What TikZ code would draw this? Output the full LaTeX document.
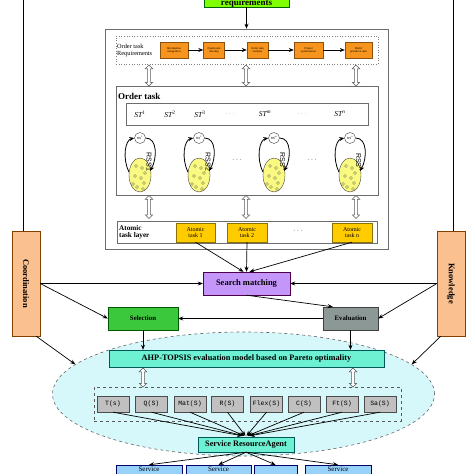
\documentclass[tikz,border=0pt]{standalone}
\usepackage{fontspec}
\setmainfont{Liberation Serif}
\setsansfont{Liberation Sans}
\setmonofont{Liberation Mono}
\usetikzlibrary{arrows.meta,shapes.geometric,shapes.arrows,calc}
\definecolor{cgreen}{RGB}{128,255,0}
\definecolor{corange}{RGB}{247,148,29}
\definecolor{cgold}{RGB}{255,204,0}
\definecolor{cyel}{RGB}{250,250,130}
\definecolor{cpurple}{RGB}{196,150,250}
\definecolor{csel}{RGB}{60,200,60}
\definecolor{ceval}{RGB}{140,152,150}
\definecolor{cpeach}{RGB}{250,192,143}
\definecolor{ccloud}{RGB}{215,248,250}
\definecolor{caqua}{RGB}{110,240,210}
\definecolor{cgray}{RGB}{192,192,192}
\definecolor{cblue}{RGB}{150,210,250}
\newcommand{\fsz}[1]{\fontsize{#1}{#1}\selectfont}
\begin{document}
\begin{tikzpicture}[x=1pt,y=-1pt,
  frame/.style={draw=gray!85!black, line width=0.6pt},
  arr/.style={-{Stealth[length=5pt,width=4pt]}, line width=0.7pt},
  plain/.style={line width=0.7pt},
  dbl/.style={double arrow, draw=gray!70!black, fill=white, inner sep=1.2pt,
     double arrow head extend=2.3pt, double arrow head indent=0pt, rotate=90, line width=0.5pt},
  fbox/.style={draw=#1!55!black, fill=#1, inner sep=0pt, align=center},
  obox/.style={fbox=corange, font=\fsz{3}},
  abox/.style={fbox=cgold, font=\fsz{6}, align=center},
  gbox/.style={fbox=cgray, draw=gray!60!black, minimum width=32, minimum height=16, font=\ttfamily\fsz{6.5}},
  rss/.style={ellipse, draw=gray!50!black, fill=cyel, minimum width=22, minimum height=34, inner sep=0pt},
  rsc/.style={circle, draw=gray!50!black, fill=white, minimum size=11, inner sep=0pt, font=\sffamily\fsz{3}},
  dotc/.style={draw=gray!40!black, line width=0.3pt}
]
\useasboundingbox (0,0) rectangle (474,474);
\clip (0,0) rectangle (474,474);
\fill[white] (0,0) rectangle (474,474);

% top green box
\node[fbox=cgreen, draw=green!40!black, minimum width=85, minimum height=22] (req) at (246.5,-4) {};
\node[font=\bfseries\fsz{9}, anchor=base, inner sep=0pt] (reqt) at (246.5,5) {requirements};

% big frame
\node[frame, minimum width=283, minimum height=220, inner sep=0pt] (big) at (246.5,139) {};
\draw[arr] (req.south) -- (big.north);

% order task requirements
\node[draw=gray, dotted, line width=0.6pt, minimum width=262, minimum height=28, inner sep=0pt] (otr) at (247,50) {};
\node[anchor=west, align=left, font=\fsz{6.3}, inner sep=0pt] (otrl) at (117,50.5) {Order task\\Requirements};
\node[obox, minimum width=28, minimum height=16] (o1) at (174,50) {Information\\integration};
\node[obox, minimum width=21, minimum height=16] (o2) at (214,50) {Functional\\decomp};
\node[obox, minimum width=21, minimum height=16] (o3) at (257.5,50) {Order task\\analysis};
\node[obox, minimum width=29, minimum height=16] (o4) at (308.5,50) {Cluster\\optimization};
\node[obox, minimum width=27, minimum height=16] (o5) at (358.5,50) {Build\\primitive task};
\draw[arr] (o1) -- (o2);
\draw[arr] (o2) -- (o3);
\draw[arr] (o3) -- (o4);
\draw[arr] (o4) -- (o5);

% double arrows top
\node[dbl, minimum height=21] (da1) at (149,75.5) {};
\node[dbl, minimum height=21] (da2) at (246,75.5) {};
\node[dbl, minimum height=21] (da3) at (356,75.5) {};

% order task box
\node[frame, minimum width=262, minimum height=109, inner sep=0pt] (ot) at (247,140.5) {};
\node[anchor=west, font=\bfseries\fsz{9}, inner sep=0pt] (otl) at (118,96) {Order task};
\node[frame, minimum width=242, minimum height=22, inner sep=0pt] (st) at (247,114) {};
\node[font=\itshape\fsz{7.5}] (st1) at (140,114) {ST\textsuperscript{\upshape 1}};
\node[font=\itshape\fsz{7.5}] (st2) at (170,114) {ST\textsuperscript{\upshape 2}};
\node[font=\itshape\fsz{7.5}] (st3) at (200,114) {ST\textsuperscript{\upshape 3}};
\node[font=\fsz{6}, text=gray] (std1) at (230,114) {$\cdots$};
\node[font=\itshape\fsz{7.5}] (stm) at (265,114) {ST\textsuperscript{m}};
\node[font=\fsz{6}, text=gray] (std2) at (302,114) {$\cdots$};
\node[font=\itshape\fsz{7.5}] (stn) at (340,114) {ST\textsuperscript{n}};

\foreach \i/\cx/\s/\lab in {1/140/1/RSS1, 2/199/2/RSS2, 3/274/m/RSS\textsuperscript{m}, 4/350/n/RSS\textsuperscript{n}}{
  \node[rss] (e\i) at (\cx,175) {};
  \foreach \dx/\dy in {-4/-9, 2/-7, 5/-2, -5/1, 1/3, 4/8, -3/12, 3/14, -7/9}{
    \draw[dotc] ($(e\i.center)+(\dx,\dy)$) circle (1.5pt);
  }
  \node[rsc] (rs\i) at (\cx,138) {RS\textsuperscript{\s}};
  \draw[arr, line width=0.8pt] ($(e\i.center)+(-11,-3)$) .. controls +(-7,-14) and +(-9,2) .. (rs\i.west);
  \draw[arr, line width=0.8pt] (rs\i.east) .. controls +(12,0) and +(7,-12) .. ($(e\i.center)+(10,-4)$);
  \node[rotate=-90, font=\sffamily\fsz{7}, inner sep=0pt] (rl\i) at (\cx+9,162) {\lab};
}
\node[font=\fsz{7}] (ed1) at (237,160) {$\cdots$};
\node[font=\fsz{7}] (ed2) at (312,160) {$\cdots$};

% double arrows bottom
\node[dbl, minimum height=23] (db1) at (149,207) {};
\node[dbl, minimum height=23] (db2) at (246,207) {};
\node[dbl, minimum height=23] (db3) at (356,207) {};

% atomic layer
\node[frame, minimum width=260, minimum height=22, inner sep=0pt] (at) at (247,232) {};
\node[anchor=west, align=left, font=\bfseries\fsz{7.2}, inner sep=0pt] (atl) at (119,232) {Atomic\\task layer};
\node[abox, minimum width=39, minimum height=19] (a1) at (195.5,232.5) {Atomic\\task 1};
\node[abox, minimum width=40, minimum height=19] (a2) at (247,232.5) {Atomic\\task 2};
\node[abox, minimum width=40, minimum height=19] (a3) at (352,232.5) {Atomic\\task n};
\node[font=\fsz{7}] (ad) at (298,231) {$\cdots$};

% outer lines and side boxes
\node[fbox=cpeach, draw=orange!50!black, minimum width=28, minimum height=105] (co) at (26,283.5) {};
\node[rotate=-90, font=\bfseries\fsz{8.5}] (cot) at (co.center) {Coordination};
\node[fbox=cpeach, draw=orange!50!black, minimum width=28, minimum height=105] (kn) at (451,283.5) {};
\node[rotate=-90, font=\bfseries\fsz{8.5}] (knt) at (kn.center) {Knowledge};
\coordinate (tl) at (23,0);
\coordinate (tr) at (453,0);
\draw[plain] (tl) -- (tl |- co.north);
\draw[plain] (tr) -- (tr |- kn.north);

% search matching
\node[fbox=cpurple, draw=violet!60!black, minimum width=87, minimum height=23, font=\bfseries\fsz{8.5}] (sm) at (246.5,283.5) {Search matching};
\draw[arr] (a1.south) -- ($(sm.north)+(-3,0)$);
\draw[arr] (a2.south) -- ($(sm.north)+(0,0)$);
\draw[arr] (a3.south) -- ($(sm.north)+(3,0)$);
\draw[arr] (co.east) -- (sm.west);
\draw[arr] (kn.west) -- (sm.east);

% selection / evaluation
\node[fbox=csel, draw=green!35!black, minimum width=70, minimum height=23, font=\bfseries\fsz{6.8}] (sel) at (143,318.5) {Selection};
\node[fbox=ceval, draw=gray!50!black, minimum width=55, minimum height=23, font=\bfseries\fsz{6.8}] (ev) at (350.5,318.5) {Evaluation};
\draw[arr] (co.east) -- (sel.west);
\draw[arr] (kn.west) -- (ev.east);
\draw[arr] (sm.south) -- ($(ev.north west)+(10,0)$);
\draw[arr] (ev.west) -- (sel.east);

% cloud
\node[ellipse, draw=gray!80!black, dashed, fill=ccloud, minimum width=382, minimum height=124, inner sep=0pt, line width=0.6pt] (cl) at (243.5,394) {};
\draw[arr] ($(co.south east)+(-4,0)$) -- (cl.170);
\draw[arr] ($(kn.south west)+(4,0)$) -- (cl.10);

\node[fbox=caqua, draw=teal!70!black, minimum width=275, minimum height=17, font=\bfseries\fsz{8.3}] (ahp) at (246.5,358.5) {AHP-TOPSIS evaluation model based on Pareto optimality};
\draw[arr] (sel.south) -- (sel.south |- ahp.north);
\draw[arr] (ev.south) -- (ev.south |- ahp.north);

\node[dbl, minimum height=19] (dc1) at (143,377.5) {};
\node[dbl, minimum height=19] (dc2) at (353,377.5) {};

\node[draw=gray!70!black, dashed, line width=0.6pt, minimum width=307, minimum height=34, inner sep=0pt] (gd) at (247.5,404) {};
\foreach \i/\x/\t in {1/113/T(s), 2/151.5/Q(S), 3/190/Mat(S), 4/227.5/R(S), 5/266.5/Flex(S), 6/304/C(S), 7/342/Ft(S), 8/380/Sa(S)}{
  \node[gbox] (g\i) at (\x,404) {\t};
}
\node[fbox=caqua, draw=teal!70!black, minimum width=96, minimum height=15, font=\bfseries\fsz{8.3}] (sra) at (246,444.5) {Service ResourceAgent};
\foreach \i in {1,...,8}{
  \draw[arr] (g\i.south) -- ($(sra.north)+({(\i-4.5)*1.1},-1)$);
}

% service boxes
\node[fbox=cblue, draw=blue!40!black, minimum width=66, minimum height=16] (s1) at (149,473) {};
\node[fbox=cblue, draw=blue!40!black, minimum width=65, minimum height=16] (s2) at (218.5,473) {};
\node[fbox=cblue, draw=blue!40!black, minimum width=43, minimum height=16] (s3) at (275.5,473) {};
\node[fbox=cblue, draw=blue!40!black, minimum width=66, minimum height=16] (s4) at (338,473) {};
\foreach \i in {1,2,4}{
  \node[anchor=north, font=\fsz{7}, inner sep=0pt] (st\i t) at ($(s\i.north)+(0,1.5)$) {Service};
}
\foreach \i in {1,...,4}{
  \draw[arr] (sra.south) -- (s\i.north);
}
\end{tikzpicture}
\end{document}
